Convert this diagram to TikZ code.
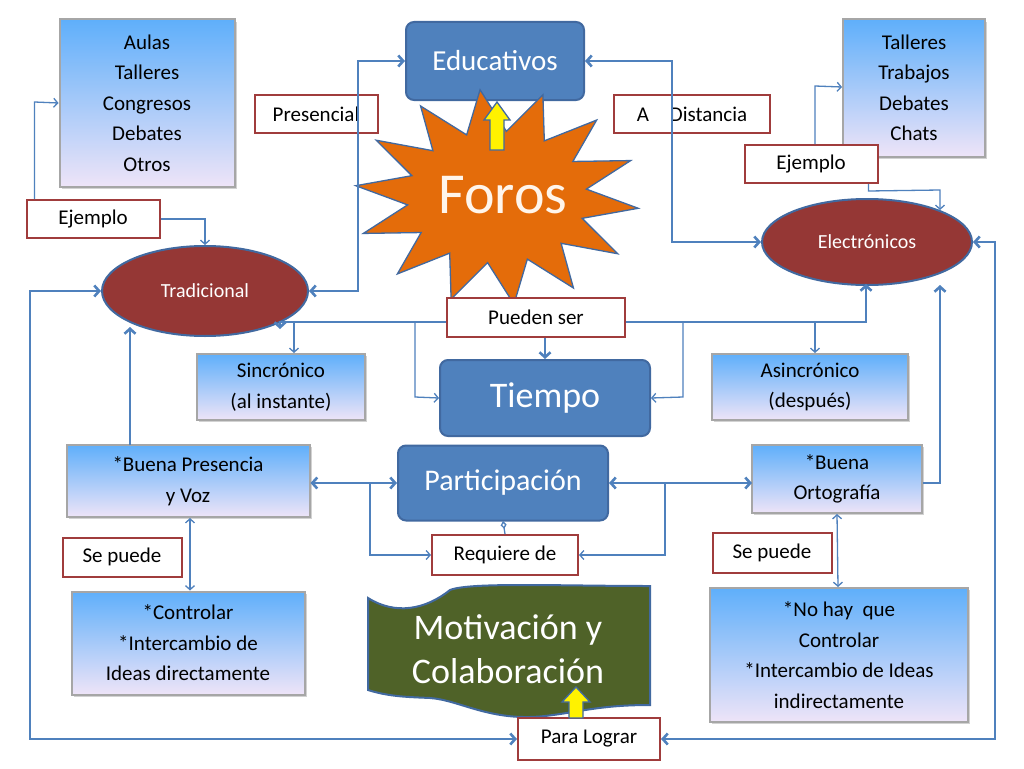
\documentclass[tikz,border=0pt]{standalone}
\usepackage{fontspec}
\setmainfont{Carlito}
\usetikzlibrary{arrows.meta,shadows,shapes.geometric}
\definecolor{ln}{RGB}{79,129,189}
\definecolor{dk}{RGB}{65,105,160}
\definecolor{redb}{RGB}{160,60,60}
\definecolor{elli}{RGB}{149,55,53}
\definecolor{orng}{RGB}{228,108,10}
\definecolor{grn}{RGB}{79,98,40}
\definecolor{lb}{RGB}{95,175,250}
\definecolor{lv}{RGB}{238,228,248}
\begin{document}
\begin{tikzpicture}[x=1pt,y=-1pt,
 gbox/.style={draw=gray!70,line width=2pt,top color=lb,bottom color=lv,align=center,font=\fontsize{21}{30.5}\selectfont,inner sep=0pt,drop shadow={opacity=0.35}},
 lbox/.style={draw=redb,line width=2pt,fill=white,font=\fontsize{21}{24}\selectfont,inner sep=0pt},
 rbox/.style={draw=dk,line width=2pt,fill=ln,rounded corners=8pt,text=white,inner sep=0pt},
 elb/.style={ellipse,draw=dk,line width=2pt,fill=elli,text=white,font=\fontsize{20}{22}\selectfont,inner sep=0pt},
 cn/.style={draw=ln,line width=2.6pt,-{Straight Barb[length=5pt,width=11pt]}},
 cn2/.style={draw=ln,line width=2.6pt,{Straight Barb[length=5pt,width=11pt]}-{Straight Barb[length=5pt,width=11pt]}},
 tn/.style={draw=ln,line width=1.3pt,-{Straight Barb[length=4pt,width=9pt]}},
 tn2/.style={draw=ln,line width=1.3pt,{Straight Barb[length=4pt,width=9pt]}-{Straight Barb[length=4pt,width=9pt]}},
 yar/.style={fill=yellow,draw=dk,line width=1.3pt}]
\useasboundingbox[fill=white] (0,0) rectangle (1024,768);
% boxes
\node[gbox,minimum width=175,minimum height=167] (aulas) at (147,103) {Aulas\\Talleres\\Congresos\\Debates\\Otros};
\node[gbox,minimum width=142,minimum height=137] (tall) at (914,88) {Talleres\\Trabajos\\Debates\\Chats};
\node[rbox,minimum width=178,minimum height=78,font=\fontsize{29}{30}\selectfont] (edu) at (495,61) {Educativos};
% star
\fill[orng,draw=dk,line width=1.3pt] plot[samples=29,domain=0:28] ({497+(142-52*mod(\x,2))*cos(\x*360/28+6)},{197+(108-42*mod(\x,2))*sin(\x*360/28+6)}) -- cycle;
\node[font=\fontsize{58}{60}\selectfont,text=white!92!orange] (foros) at (503,195) {Foros};
\draw[yar] (490,150) -- (490,120) -- (484,120) -- (497,102) -- (510,120) -- (504,120) -- (504,150) -- cycle;
\node[lbox,minimum width=123,minimum height=38] (pres) at (316,114) {Presencial};
\node[lbox,minimum width=156,minimum height=38] (dist) at (692,114) {A\quad Distancia};
\node[lbox,minimum width=133,minimum height=38] (ejr) at (811,164) {Ejemplo};
\node[lbox,minimum width=133,minimum height=38] (ejl) at (93,219) {Ejemplo};
\node[elb,minimum width=206,minimum height=90] (trad) at (205,291) {Tradicional};
\node[elb,minimum width=210,minimum height=86] (elec) at (867,242) {Electrónicos};
\node[lbox,minimum width=178,minimum height=39] (pued) at (536,317) {Pueden ser};
\node[gbox,minimum width=168,minimum height=66] (sinc) at (281,387) {Sincrónico\\(al instante)};
\node[rbox,minimum width=210,minimum height=76,font=\fontsize{36}{38}\selectfont] (tiem) at (545,398) {Tiempo};
\node[gbox,minimum width=196,minimum height=66] (asin) at (810,387) {Asincrónico\\(después)};
\node[gbox,minimum width=243,minimum height=72] (buen) at (188,481) {*Buena Presencia\\y Voz};
\node[rbox,minimum width=210,minimum height=75,font=\fontsize{30}{32}\selectfont] (part) at (503,483) {Participación};
\node[gbox,minimum width=170,minimum height=68] (orto) at (837,479) {*Buena\\Ortografía};
\node[lbox,minimum width=119,minimum height=39] (sel) at (122,557) {Se puede};
\node[lbox,minimum width=146,minimum height=40] (req) at (505,555) {Requiere de};
\node[lbox,minimum width=119,minimum height=40] (ser) at (772,553) {Se puede};
\node[gbox,minimum width=233,minimum height=103] (contr) at (188,643) {*Controlar\\*Intercambio de\\Ideas directamente};
\node[gbox,minimum width=258,minimum height=134] (nohay) at (839,655) {*No hay\ \ que\\Controlar\\*Intercambio de Ideas\\indirectamente};
% wave shape
\fill[grn,draw=dk,line width=2pt] (368,598) .. controls (395,615) and (425,610) .. (450,590) .. controls (470,582) and (560,586) .. (650,586) -- (650,705) .. controls (600,705) and (580,712) .. (545,716) .. controls (490,722) and (460,700) .. (430,698) .. controls (410,697) and (390,697) .. (368,690) -- cycle;
\node[align=center,text=white,font=\fontsize{36}{44}\selectfont] (moti) at (508,649) {Motivación y\\Colaboración};
\node[lbox,minimum width=142,minimum height=42] (para) at (589,739) {Para Lograr};
\draw[yar] (569,718) -- (569,702) -- (562,702) -- (576,687) -- (590,702) -- (583,702) -- (583,718) -- cycle;
% connectors
\draw[cn2] (edu.west) -- (358,61) -- (358,291) -- (trad.east);
\draw[cn2] (edu.east) -- (672,61) -- (672,242) -- (elec.west);
\draw[tn] (ejl.north west) ++(9,0) -- ++(0,-97) -- (aulas.west|-0,103);
\draw[tn] (ejl.east) -- (205,219) -- (trad.north);
\draw[tn] (ejr.north) ++(4,0) -- ++(0,-58) -- (tall.west|-0,87);
\draw[tn] (ejr.south east) ++(-10,0) -- ++(0,7) -- (940,190) -- (940,210);
\draw[cn] (pued.west|-0,322) -- (280,322) -- (280,329);
\draw[tn] (294,322) -- (sinc.north-|294,0);
\draw[tn] (415,322) -- (415,397) -- (tiem.west);
\draw[cn] (pued.south-|545,0) -- (tiem.north-|545,0);
\draw[cn] (pued.east|-0,322) -- (866,322) -- (866,284);
\draw[tn] (683,322) -- (683,397) -- (tiem.east);
\draw[tn] (815,322) -- (asin.north-|815,0);
\draw[cn] (130,445) -- (130,327);
\draw[cn2] (buen.east|-0,483) -- (part.west);
\draw[tn] (370,483) -- (370,555) -- (req.west);
\draw[cn2] (part.east) -- (752,483);
\draw[tn] (665,483) -- (665,555) -- (req.east);
\draw[draw=ln,line width=1.3pt,-{Diamond[open,length=8pt,width=6pt]}] (req.north) -- (503,521);
\draw[cn] (orto.east|-0,483) -- (940,483) -- (940,285);
\draw[tn2] (buen.south-|190,0) -- (contr.north-|190,0);
\draw[tn2] (orto.south) -- (nohay.north-|838,0);
\draw[cn2] (para.west) -- (30,739) -- (30,291) -- (trad.west);
\draw[cn2] (para.east) -- (995,739) -- (995,242) -- (elec.east);
\end{tikzpicture}
\end{document}
